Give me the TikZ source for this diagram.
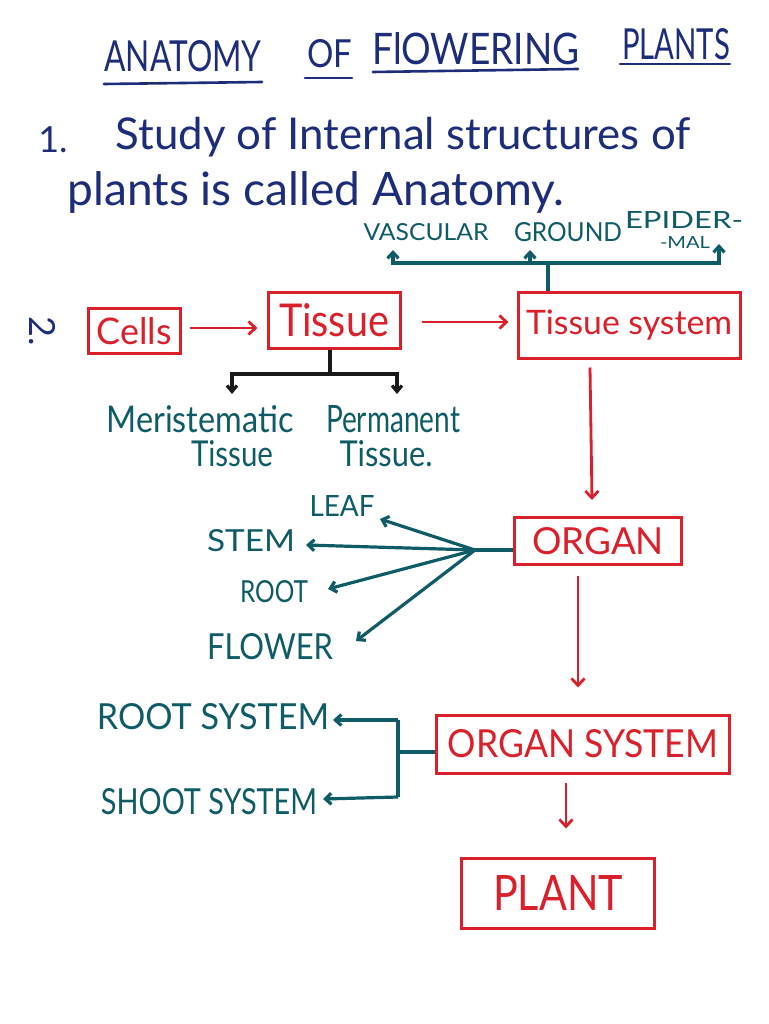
\documentclass[tikz,border=0pt]{standalone}
\usepackage{fontspec}
\setmainfont{Lato}
\usetikzlibrary{arrows.meta,calc}
\definecolor{navy}{HTML}{1E2D7A}
\definecolor{myred}{HTML}{D9202B}
\definecolor{tealc}{HTML}{0F5B66}
\definecolor{ink}{HTML}{1A1A1A}
\newcommand\fitw[2]{\resizebox{#1pt}{!}{#2}}
\newcommand\fitwh[3]{\resizebox{#1pt}{#2pt}{#3}}
\begin{document}
\begin{tikzpicture}[x=1pt,y=-1pt,
  navytxt/.style={text=navy,inner sep=0pt,font=\fontsize{36}{36}\selectfont},
  redbox/.style={draw=myred,line width=3pt,text=myred,inner sep=0pt,font=\fontsize{30}{30}\selectfont},
  tealtxt/.style={text=tealc,inner sep=0pt,font=\fontsize{24}{24}\selectfont},
  redarr/.style={draw=myred,line width=2.8pt,-{Straight Barb[length=7pt,width=13pt]}},
  tealln/.style={draw=tealc,line width=3.2pt},
  tealarr/.style={draw=tealc,line width=3.2pt,-{Straight Barb[length=6pt,width=11pt]}},
  inkln/.style={draw=ink,line width=3.2pt},
  inkarr/.style={draw=ink,line width=3.2pt,-{Straight Barb[length=6pt,width=10pt]}},
  uline/.style={draw=navy,line width=2.6pt,line cap=round}
]
\useasboundingbox[fill=white] (0,0) rectangle (768,1024);

% Title
\node[navytxt] (t1) at (183,56) {\fitwh{157}{31}{ANATOMY}};
\node[navytxt] (t2) at (330,54) {\fitwh{45}{28}{OF}};
\node[navytxt] (t3) at (476,49) {\fitwh{207}{32}{FlOWERING}};
\node[navytxt] (t4) at (676,44) {\fitwh{108}{31}{PLANTS}};
\draw[uline] (104,84) -- (262,82);
\draw[uline] (305,78) -- (352,78);
\draw[uline] (373,72) -- (578,69);
\draw[uline] (620,64) -- (730,64);

% Definition
\node[navytxt] (n1) at (53,140) {1.};
\node[navytxt] (l1) at (403,137) {\fitw{575}{Study of Internal structures of}};
\node[navytxt] (l2) at (316,192) {\fitw{497}{plants is called Anatomy.}};

% 2.
\node[navytxt,rotate=-90] (n2) at (42,331) {2.};

% Boxes
\node[redbox,minimum width=92,minimum height=45] (cells) at (134,331) {\fitwh{75}{27}{Cells}};
\node[redbox,minimum width=132,minimum height=56] (tissue) at (334,320) {\fitwh{110}{33}{Tissue}};
\node[redbox,minimum width=222,minimum height=66] (ts) at (629,325) {\fitw{206}{Tissue system}};
\node[redbox,minimum width=167,minimum height=47] (organ) at (598,541) {\fitwh{132}{27}{ORGAN}};
\node[redbox,minimum width=293,minimum height=58] (os) at (583,744) {\fitwh{270}{28}{ORGAN SYSTEM}};
\node[redbox,minimum width=193,minimum height=70] (plant) at (558,893) {\fitwh{130}{35}{PLANT}};

% main red arrows
\draw[redarr] ($(cells.east)+(8,-3)$) -- ($(cells.east -| tissue.west)+(-9,-3)$);
\draw[redarr] ($(tissue.east)+(20,2)$) -- ($(tissue.east -| ts.west)+(-8,2)$);
\draw[redarr] ($(ts.south)+(-39,8)$) -- ($(organ.north)+(-6,-16)$);
\draw[redarr] ($(organ.south)+(-20,10)$) -- ($(os.north)+(-5,-26)$);
\draw[redarr] ($(os.south)+(-17,8)$) -- ($(plant.north)+(8,-28)$);

% Tissue system types
\node[tealtxt] (vasc) at (426,232) {\fitwh{125}{17}{VASCULAR}};
\node[tealtxt] (ground) at (568,232) {\fitwh{108}{19}{GROUND}};
\node[tealtxt] (epi) at (684,220) {\fitwh{118}{17}{EPIDER-}};
\node[tealtxt] (mal) at (685,242) {\fitwh{50}{12}{-MAL}};
\coordinate (tsb) at (548,263);
\coordinate (vt) at (393,250);
\coordinate (gt) at (530,250);
\coordinate (et) at (719,244);
\draw[tealln] (tsb |- ts.north) -- (tsb);
\draw[tealarr] (tsb) -| (vt);
\draw[tealarr] (tsb) -| (et);
\draw[tealarr] (gt |- tsb) -- (gt);

% Tissue types
\node[tealtxt,align=center] (mer) at (200,436) {\fitwh{187}{27}{Meristematic}\\[7pt]\hspace*{64pt}\fitwh{82}{26}{Tissue}};
\node[tealtxt,align=center] (perm) at (393,436) {\fitwh{134}{27}{Permanent}\\[7pt]\hspace*{-14pt}\fitwh{93}{26}{Tissue.}};
\coordinate (tb) at (330,374);
\coordinate (mt) at (232,394);
\coordinate (pt) at (397,394);
\draw[inkln] (tissue.south -| tb) -- (tb);
\draw[inkarr] (tb) -| (mt);
\draw[inkarr] (tb) -| (pt);

% Organ types
\node[tealtxt] (leaf) at (342,506) {\fitwh{65}{21}{LEAF}};
\node[tealtxt] (stem) at (251,541) {\fitwh{88}{22}{STEM}};
\node[tealtxt] (root) at (274,592) {\fitwh{68}{22}{ROOT}};
\node[tealtxt] (flower) at (270,647) {\fitwh{126}{26}{FLOWER}};
\coordinate (hub) at (475,550);
\coordinate (lt) at (380,519);
\coordinate (st) at (306,545);
\coordinate (rt) at (328,589);
\coordinate (ft) at (356,641);
\draw[tealln] (organ.west |- hub) -- (hub);
\draw[tealarr] (hub) -- (lt);
\draw[tealarr] (hub) -- (st);
\draw[tealarr] (hub) -- (rt);
\draw[tealarr] (hub) -- (ft);

% Organ system types
\node[tealtxt] (rs) at (213,717) {\fitwh{232}{26}{ROOT SYSTEM}};
\node[tealtxt] (ss) at (209,802) {\fitwh{216}{26}{SHOOT SYSTEM}};
\coordinate (osb) at (398,752);
\coordinate (ost) at (398,720);
\coordinate (osl) at (398,797);
\coordinate (rst) at (333,720);
\coordinate (sst) at (323,799);
\draw[tealln] (os.west |- osb) -- (osb);
\draw[tealln] (ost) -- (osl);
\draw[tealarr] (ost) -- (rst);
\draw[tealarr] (osl) -- (sst);
\end{tikzpicture}
\end{document}
